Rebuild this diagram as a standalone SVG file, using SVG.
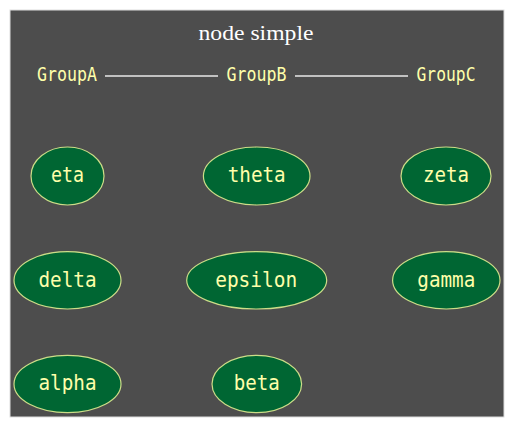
<svg xmlns="http://www.w3.org/2000/svg" width="514" height="427" viewBox="0 0 514 427">
<style>
.bg{fill:#4d4d4d;stroke:#dddddd;stroke-width:1}
.title{font-family:"Liberation Serif",serif;font-size:22px;fill:#ffffff}
.glabel{font-family:"DejaVu Sans Mono",monospace;font-size:20px;fill:#ffffaa}
.node ellipse{fill:#006633;stroke:#ccdd88;stroke-width:1.2}
.node text{font-family:"DejaVu Sans Mono",monospace;font-size:22px;fill:#ffffaa;text-anchor:middle}
.conn line{stroke:#e8e8e8;stroke-width:1.5}
</style>
<rect width="514" height="427" fill="#ffffff"/>
<rect class="bg" x="10" y="10" width="494" height="407"/>
<text class="title" x="256" y="39.5" text-anchor="middle" textLength="115" lengthAdjust="spacingAndGlyphs">node simple</text>
<g id="groupA"><text class="glabel" x="37" y="81" textLength="60" lengthAdjust="spacingAndGlyphs">GroupA</text></g>
<g id="groupB"><text class="glabel" x="226.5" y="81" textLength="60" lengthAdjust="spacingAndGlyphs">GroupB</text></g>
<g id="groupC"><text class="glabel" x="416.5" y="81" textLength="59" lengthAdjust="spacingAndGlyphs">GroupC</text></g>
<g id="connectors" class="conn">
<line x1="105" y1="76" x2="218" y2="76"/>
<line x1="295" y1="76" x2="408" y2="76"/>
</g>
<g id="eta" class="node"><ellipse cx="67.5" cy="176" rx="36.5" ry="29"/><text x="67.5" y="182" textLength="33" lengthAdjust="spacingAndGlyphs">eta</text></g>
<g id="theta" class="node"><ellipse cx="256.7" cy="176" rx="53.3" ry="29"/><text x="256.7" y="182" textLength="58" lengthAdjust="spacingAndGlyphs">theta</text></g>
<g id="zeta" class="node"><ellipse cx="446" cy="176" rx="45" ry="29"/><text x="446" y="182" textLength="46" lengthAdjust="spacingAndGlyphs">zeta</text></g>
<g id="delta" class="node"><ellipse cx="67.5" cy="280.3" rx="53.5" ry="28.7"/><text x="67.5" y="286.5" textLength="58" lengthAdjust="spacingAndGlyphs">delta</text></g>
<g id="epsilon" class="node"><ellipse cx="256.7" cy="280.3" rx="70" ry="28.7"/><text x="256.2" y="286.5" textLength="82" lengthAdjust="spacingAndGlyphs">epsilon</text></g>
<g id="gamma" class="node"><ellipse cx="446.3" cy="280.3" rx="53.7" ry="28.7"/><text x="446.3" y="286.5" textLength="58" lengthAdjust="spacingAndGlyphs">gamma</text></g>
<g id="alpha" class="node"><ellipse cx="67.5" cy="384" rx="53.5" ry="28.7"/><text x="67.5" y="390" textLength="58" lengthAdjust="spacingAndGlyphs">alpha</text></g>
<g id="beta" class="node"><ellipse cx="256.8" cy="384" rx="44.8" ry="28.7"/><text x="256.8" y="390" textLength="46" lengthAdjust="spacingAndGlyphs">beta</text></g>
</svg>
